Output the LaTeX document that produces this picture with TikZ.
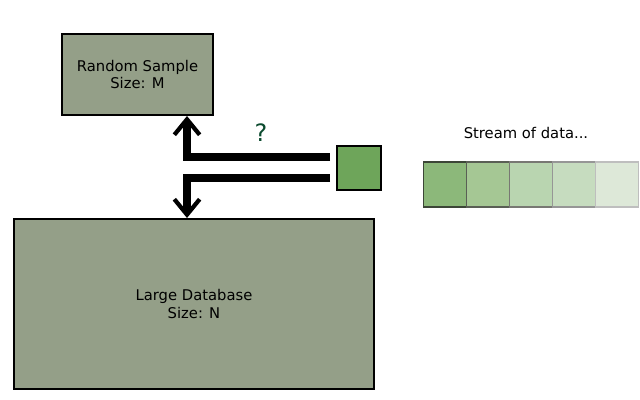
\documentclass[tikz,border=0pt]{standalone}
\usepackage{fontspec}
\setmainfont{DejaVu Sans}
\usetikzlibrary{arrows.meta}
\begin{document}
\begin{tikzpicture}[x=0.025cm,y=-0.025cm,
  box/.style={draw=black,line width=1.4pt,fill=boxg,inner sep=0,align=center,font=\fontsize{10.5}{12.5}\selectfont},
  cell/.style={line width=1.4pt,minimum width=43*0.025cm,minimum height=45*0.025cm,inner sep=0},
  big/.style={line width=5pt,-{Straight Barb[length=11pt,width=18pt,line width=3pt]}}]
\definecolor{boxg}{HTML}{949F88}
\definecolor{sqg}{HTML}{6EA55A}
\useasboundingbox (0,0) rectangle (640,400);
\node[box,minimum width=151*0.025cm,minimum height=81*0.025cm] (rs) at (137.5,74.5) {Random Sample\\Size: M};
\node[box,minimum width=360*0.025cm,minimum height=170*0.025cm] (db) at (194,304) {Large Database\\Size: N};
\node[draw=black,line width=1.4pt,fill=sqg,minimum size=44*0.025cm,inner sep=0] (sq) at (359,168) {};
\coordinate (a1) at (330,157);
\coordinate (k1) at (187,157);
\coordinate (a2) at (330,178);
\coordinate (k2) at (187,178);
\draw[big,line join=miter] (a1) -- (k1) -- (rs.south -| k1);
\draw[big,line join=miter] (a2) -- (k2) -- (db.north -| k2);
\node[text={rgb,255:red,11;green,74;blue,46},font=\fontsize{17}{20}\selectfont] (q) at (261,133) {?};
\node[font=\fontsize{10.5}{12.5}\selectfont] (st) at (526,133) {Stream of data...};
\node[cell,draw={rgb,255:red,60;green,70;blue,55},fill={rgb,255:red,140;green,184;blue,122}] (c1) at (445,184.5) {};
\node[cell,draw={rgb,255:red,90;green,95;blue,85},fill={rgb,255:red,165;green,199;blue,148}] (c2) at (488,184.5) {};
\node[cell,draw={rgb,255:red,120;green,120;blue,115},fill={rgb,255:red,185;green,213;blue,176}] (c3) at (531,184.5) {};
\node[cell,draw={rgb,255:red,150;green,150;blue,150},fill={rgb,255:red,198;green,220;blue,191}] (c4) at (574,184.5) {};
\node[cell,draw={rgb,255:red,190;green,190;blue,190},fill={rgb,255:red,221;green,232;blue,216}] (c5) at (617,184.5) {};
\end{tikzpicture}
\end{document}
